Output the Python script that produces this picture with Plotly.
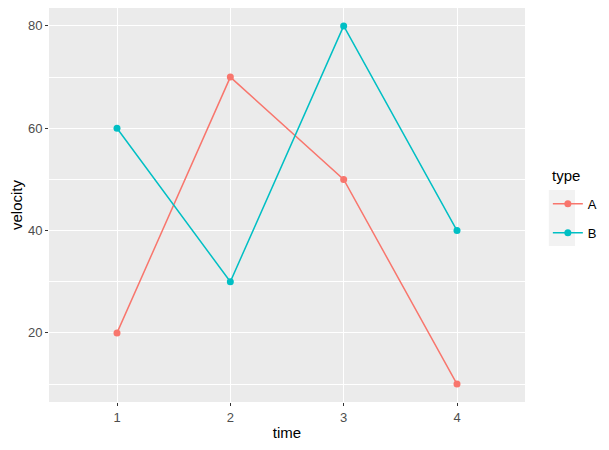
import plotly.graph_objects as go

time = [1, 2, 3, 4]
velocity_a = [20, 70, 50, 10]
velocity_b = [60, 30, 80, 40]
types = ["A", "B"]
colors = {"A": "#F8766D", "B": "#00BFC4"}

y_major = [20, 40, 60, 80]
y_minor = [10, 30, 50, 70]

FONT = "Liberation Sans, Arial, Helvetica, sans-serif"

fig = go.Figure()
for name, vals in zip(types, [velocity_a, velocity_b]):
    fig.add_trace(
        go.Scatter(
            x=time,
            y=vals,
            name=name,
            legendgroup=name,
            mode="lines+markers",
            line=dict(color=colors[name], width=1.5),
            marker=dict(color=colors[name], size=7),
        )
    )

# grey legend key background, ggplot style
fig.add_shape(
    type="rect", xref="paper", yref="paper",
    x0=1.050, x1=1.105, y0=0.396, y1=0.538,
    fillcolor="#F2F2F2", line_width=0, layer="below",
)
# legend title as annotation so the gap to the keys matches ggplot
fig.add_annotation(
    text="type", xref="paper", yref="paper", x=1.053, y=0.574,
    xanchor="left", yanchor="middle", showarrow=False,
    font=dict(family=FONT, size=15, color="black"),
)

axis_common = dict(
    showline=False,
    zeroline=False,
    gridcolor="white",
    gridwidth=1.4,
    ticks="outside",
    ticklen=3,
    tickwidth=1.1,
    tickcolor="#333333",
    tickfont=dict(family=FONT, size=13, color="#4D4D4D"),
)

fig.update_xaxes(
    **axis_common,
    range=[0.4, 4.6],
    tickvals=time,
    title=dict(text="time", font=dict(family=FONT, size=15, color="black"), standoff=3),
)
fig.update_yaxes(
    **axis_common,
    range=[6.5, 83.5],
    tickvals=y_major,
    minor=dict(tickvals=y_minor, gridcolor="white", gridwidth=0.7, ticks=""),
    title=dict(text="velocity", font=dict(family=FONT, size=15, color="black"), standoff=3),
)

# page body adds an 8px margin, so the figure margins are offset by it
fig.update_layout(
    width=609,
    height=450,
    margin=dict(l=41, r=92, t=0, b=56),
    plot_bgcolor="#EBEBEB",
    paper_bgcolor="white",
    showlegend=True,
    legend=dict(
        font=dict(family=FONT, size=13, color="black"),
        x=1.048, y=0.541, xanchor="left", yanchor="top",
        bgcolor="rgba(0,0,0,0)",
        itemwidth=30,
        tracegroupgap=9,
    ),
)

fig.write_html("out.html")
